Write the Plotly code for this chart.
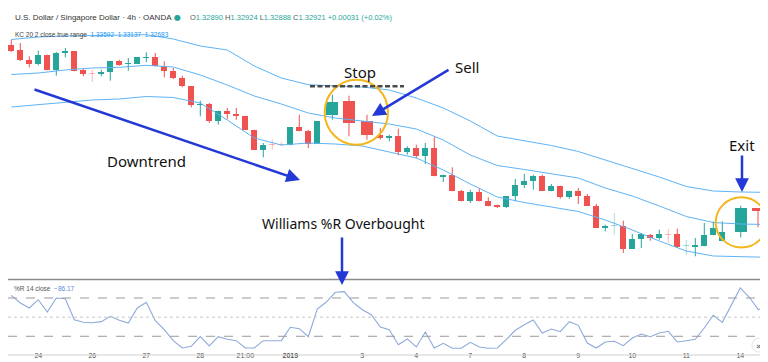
import plotly.graph_objects as go

W, H = 768, 362

# ---------------- data ----------------
bar_idx = list(range(0, 35)) + list(range(41, 80)) + [84, 85]
opens = [1.34927,1.34883,1.34783,1.34740,1.34833,1.34683,1.34850,1.34867,1.34677,1.34643,
         1.34640,1.34657,1.34767,1.34740,1.34740,1.34800,1.34807,1.34717,1.34667,1.34600,
         1.34517,1.34330,1.34340,1.34173,1.34267,1.34240,1.34217,1.34083,1.33883,1.33937,
         1.33937,1.33927,1.34107,1.34067,1.33940,
         1.34033,1.34000,1.34017,1.33857,1.33900,1.33823,1.33900,1.33617,1.33633,1.33467,
         1.33367,1.33457,1.33373,1.33323,1.33310,1.33417,1.33527,1.33573,1.33623,1.33473,
         1.33523,1.33407,1.33473,1.33423,1.33323,1.33100,1.33117,1.33123,1.32890,1.32990,
         1.33033,1.33000,1.33040,1.33040,1.32917,1.32917,1.32917,1.33027,1.32967,
         1.33117,1.33033]
highs = [1.34983,1.34950,1.34817,1.34873,1.34833,1.34860,1.34900,1.34867,1.34693,1.34683,
         1.34683,1.34767,1.34783,1.34800,1.34807,1.34857,1.34850,1.34767,1.34700,1.34623,
         1.34517,1.34373,1.34350,1.34273,1.34300,1.34300,1.34217,1.34083,1.33950,1.33983,
         1.33960,1.34107,1.34233,1.34083,1.34167,
         1.34100,1.34033,1.34093,1.33917,1.33933,1.33950,1.34010,1.33633,1.33707,1.33483,
         1.33483,1.33500,1.33407,1.33333,1.33417,1.33590,1.33640,1.33633,1.33633,1.33540,
         1.33523,1.33473,1.33500,1.33440,1.33340,1.33133,1.33250,1.33173,1.33040,1.33050,
         1.33040,1.33083,1.33093,1.33093,1.32983,1.33000,1.33150,1.33167,1.33167,
         1.33150,1.33080]
lows = [1.34860,1.34770,1.34707,1.34727,1.34677,1.34623,1.34807,1.34667,1.34617,1.34560,
        1.34617,1.34573,1.34723,1.34673,1.34740,1.34757,1.34717,1.34607,1.34590,1.34507,
        1.34307,1.34217,1.34150,1.34133,1.34190,1.34183,1.34083,1.33883,1.33807,1.33883,
        1.33920,1.33927,1.34067,1.33900,1.33940,
        1.33983,1.33967,1.33827,1.33833,1.33800,1.33740,1.33617,1.33560,1.33467,1.33367,
        1.33350,1.33367,1.33317,1.33300,1.33300,1.33367,1.33500,1.33483,1.33473,1.33467,
        1.33393,1.33393,1.33340,1.33323,1.33100,1.33067,1.33033,1.32850,1.32890,1.32900,
        1.32973,1.32983,1.32950,1.32900,1.32833,1.32817,1.32917,1.33027,1.32967,
        1.33113,1.32950]
closes = [1.34873,1.34780,1.34740,1.34833,1.34677,1.34850,1.34873,1.34667,1.34640,1.34637,
          1.34660,1.34767,1.34733,1.34750,1.34807,1.34807,1.34717,1.34667,1.34600,1.34517,
          1.34327,1.34337,1.34167,1.34267,1.34240,1.34217,1.34083,1.33883,1.33933,1.33930,
          1.33930,1.34107,1.34067,1.33940,1.34167,
          1.34000,1.34017,1.33857,1.33900,1.33817,1.33900,1.33617,1.33630,1.33467,1.33367,
          1.33457,1.33367,1.33317,1.33310,1.33417,1.33527,1.33573,1.33623,1.33473,1.33523,
          1.33407,1.33473,1.33423,1.33323,1.33100,1.33117,1.33127,1.32890,1.32990,1.33040,
          1.33000,1.33040,1.33030,1.32907,1.32923,1.32923,1.33027,1.33100,1.33060,
          1.33143,1.32950]
faded_bars = [9, 29, 30, 67, 73, 75]

# candles magnified inside the yellow circles
zoom_idx = [35.67, 37.52, 39.52, 81.05, 82.97]
zoom_open = [1.34233, 1.34367, 1.34167, 1.33060, 1.33300]
zoom_high = [1.34433, 1.34423, 1.34233, 1.33323, 1.33300]
zoom_low = [1.34183, 1.34017, 1.33983, 1.33007, 1.33107]
zoom_close = [1.34357, 1.34150, 1.34033, 1.33300, 1.33267]

# Keltner channel (KC 20 2)
band_idx = list(range(0, 85, 3)) + [85]
kc_upper = [1.34985,1.35010,1.35020,1.35025,1.35027,1.35033,1.34990,1.34920,1.34880,1.34720,
            1.34600,1.34533,1.34520,1.34510,1.34480,1.34400,1.34300,1.34170,1.34020,1.33975,
            1.33925,1.33865,1.33780,1.33700,1.33610,1.33515,1.33470,1.33460,1.33457,1.33455]
kc_middle = [1.34635,1.34650,1.34680,1.34700,1.34707,1.34727,1.34710,1.34630,1.34530,1.34420,
             1.34340,1.34250,1.34200,1.34170,1.34140,1.34090,1.33980,1.33830,1.33725,1.33685,
             1.33645,1.33600,1.33500,1.33420,1.33320,1.33215,1.33155,1.33140,1.33135,1.33133]
kc_lower = [1.34310,1.34335,1.34360,1.34380,1.34390,1.34415,1.34405,1.34350,1.34180,1.34000,
            1.33930,1.33950,1.33940,1.33920,1.33860,1.33800,1.33680,1.33540,1.33410,1.33355,
            1.33310,1.33265,1.33180,1.33080,1.32970,1.32870,1.32820,1.32810,1.32807,1.32807]

# Williams %R (14)
wr_idx = list(range(0, 86))
wr_values = [-15.8,-27.8,-35.7,-22.7,-41.9,-20.0,-21.1,-54.0,-58.1,-58.7,
             -57.1,-48.7,-54.9,-59.2,-35.7,-26.7,-55.6,-69.7,-86.9,-98.4,
             -95.7,-80.6,-95.2,-80.6,-84.7,-86.9,-98.4,-98.4,-86.9,-86.9,
             -86.9,-65.9,-68.1,-80.6,-37.2,-26.3,-11.1,-10.1,-27.4,-38.3,
             -46.2,-65.4,-69.7,-93.2,-84.2,-96.8,-73.3,-98.4,-91.0,-98.8,
             -98.8,-89.4,-96.8,-98.8,-98.4,-85.3,-70.6,-61.8,-54.5,-74.8,
             -68.6,-72.8,-57.1,-62.8,-90.5,-98.4,-88.9,-87.9,-94.7,-82.7,
             -76.4,-80.6,-74.8,-72.2,-88.9,-86.9,-84.7,-67.0,-47.1,-58.1,
             -31.4,-4.3,-18.9,-38.3,-32.1,-54.0]
wr_levels = [-20, -50, -80]

tick_pos = [3, 9, 15, 21, 26, 31, 39, 45, 51, 57, 63, 69, 75, 81]
tick_text = ["24", "26", "27", "28", "21:00", "<b>2019</b>", "3", "4", "7", "8", "9", "10", "11", "14"]

# ---------------- styling ----------------
RED, GREEN = "#ef5350", "#26a69a"
RED_L, GREEN_L = "rgba(239,83,80,0.40)", "rgba(38,166,154,0.40)"
BAND = "#5fb3f5"
ARROW = "#2338d4"
CIRCLE = "#f5b61c"


def px(x):
    return x / W


def py(y):
    return 1 - y / H


fig = go.Figure()


def add_candles(xs, o, h, l, c, width, faded=()):
    cols = []
    for k, x in enumerate(xs):
        up = c[k] >= o[k]
        light = x in faded
        cols.append((GREEN_L if light else GREEN) if up else (RED_L if light else RED))
    groups = {}
    for k, col in enumerate(cols):
        groups.setdefault(col, []).append(k)
    for col, ks in groups.items():
        wx, wy = [], []
        for k in ks:
            wx += [xs[k], xs[k], None]
            wy += [l[k], h[k], None]
        fig.add_trace(go.Scatter(x=wx, y=wy, mode="lines", line=dict(color=col, width=1),
                                 hoverinfo="skip", showlegend=False, yaxis="y"))
    base = [min(o[k], c[k]) for k in range(len(xs))]
    size = [max(abs(c[k] - o[k]), 0.0001) for k in range(len(xs))]
    fig.add_trace(go.Bar(x=xs, y=size, base=base, width=width, marker=dict(color=cols, line=dict(width=0)),
                         hoverinfo="skip", showlegend=False, yaxis="y"))


add_candles(bar_idx, opens, highs, lows, closes, 0.7, faded_bars)
add_candles(zoom_idx, zoom_open, zoom_high, zoom_low, zoom_close, 1.35)

for band in (kc_upper, kc_middle, kc_lower):
    fig.add_trace(go.Scatter(x=band_idx, y=band, mode="lines", line=dict(color=BAND, width=1),
                             hoverinfo="skip", showlegend=False, yaxis="y"))

fig.add_trace(go.Scatter(x=wr_idx, y=wr_values, mode="lines", line=dict(color="#8eaad9", width=1.1),
                         hoverinfo="skip", showlegend=False, yaxis="y2", cliponaxis=False))

x_lo = (0 - 3.3) / 9
x_hi = (764 - 3.3) / 9

shapes = []
for lv in wr_levels:
    shapes.append(dict(type="line", xref="paper", yref="y2", x0=0, x1=px(764), y0=lv, y1=lv,
                       line=dict(color="#9a9a9a" if lv != -50 else "#c8c8c8", width=1,
                                 dash="dash" if lv != -50 else "dot")))
# pane borders
shapes += [
    dict(type="line", xref="paper", yref="paper", x0=0, x1=1, y0=py(271.5), y1=py(271.5),
         line=dict(color="#8c8c8c", width=1.5)),
    dict(type="line", xref="paper", yref="paper", x0=0, x1=1, y0=py(347), y1=py(347),
         line=dict(color="#cfcfcf", width=1)),
    dict(type="line", xref="paper", yref="paper", x0=px(764), x1=px(764), y0=py(0), y1=py(347),
         line=dict(color="#b5b5b5", width=1)),
]
# annotations: circles and stop line
shapes += [
    dict(type="circle", xref="paper", yref="paper", x0=px(316.7), x1=px(380), y0=py(136.7), y1=py(71.7),
         line=dict(color=CIRCLE, width=2), layer="above"),
    dict(type="circle", xref="paper", yref="paper", x0=px(707.7), x1=px(759), y0=py(239.5), y1=py(189.3),
         line=dict(color=CIRCLE, width=2), layer="above"),
    dict(type="line", xref="paper", yref="paper", x0=px(302), x1=px(396), y0=py(78.3), y1=py(78.3),
         line=dict(color="#4a4a4a", width=2.5, dash="5px,2.5px")),
    dict(type="circle", xref="paper", yref="paper", x0=px(744), x1=px(758), y0=py(344), y1=py(330),
         line=dict(color="#e3e3e3", width=1), fillcolor="white"),
]

ann = []
TXT = dict(family="Noto Sans", size=15, color="#111111")
for text, x, y, size in [("Stop", 352, 64, 15), ("Sell", 459, 59, 15), ("Downtrend", 138, 153, 15),
                         ("Exit", 733.5, 136.5, 15), ("Williams %R Overbought", 335.5, 215, 14)]:
    ann.append(dict(text=text, x=px(x), y=py(y), xref="paper", yref="paper", showarrow=False,
                    xanchor="center", yanchor="middle", font=dict(TXT, size=size)))
for hx, hy, tx, ty in [(292, 172, 25, 81), (364, 108, 442, 61), (734, 184, 734, 146), (334, 277, 334, 228)]:
    ann.append(dict(text="", x=px(hx), y=py(hy), xref="paper", yref="paper", showarrow=True,
                    ax=tx - hx, ay=ty - hy, arrowhead=2, arrowsize=1.1, arrowwidth=2.5, arrowcolor=ARROW))

HDR = "Liberation Sans"
ann += [
    dict(text="U.S. Dollar / Singapore Dollar · 4h · OANDA", x=px(5), y=py(9.5), xref="paper", yref="paper",
         showarrow=False, xanchor="left", yanchor="middle", font=dict(family=HDR, size=8, color="#333333")),
    dict(text="●", x=px(169.5), y=py(9.5), xref="paper", yref="paper", showarrow=False, xanchor="center",
         yanchor="middle", font=dict(family="DejaVu Sans", size=8, color=GREEN)),
    dict(text=("O<span style='color:#26a69a'>1.32890</span> H<span style='color:#26a69a'>1.32924</span> "
               "L<span style='color:#26a69a'>1.32888</span> C<span style='color:#26a69a'>1.32921</span> "
               "<span style='color:#26a69a'>+0.00031 (+0.02%)</span>"),
         x=px(180), y=py(9.5), xref="paper", yref="paper", showarrow=False, xanchor="left", yanchor="middle",
         font=dict(family=HDR, size=7.5, color="#555555")),
    dict(text=("KC 20 2 close true range  <span style='color:#2196f3'>1.33592</span>  "
               "<span style='color:#2196f3'>1.33137</span>  <span style='color:#2196f3'>1.32683</span>"),
         x=px(5), y=py(27), xref="paper", yref="paper", showarrow=False, xanchor="left", yanchor="middle",
         font=dict(family=HDR, size=6.5, color="#444444")),
    dict(text="%R 14 close  <span style='color:#5b86d6'>−86.17</span>", x=px(4), y=py(280.5), xref="paper",
         yref="paper", showarrow=False, xanchor="left", yanchor="middle",
         font=dict(family=HDR, size=6.5, color="#555555")),
    dict(text="»", x=px(751), y=py(337.5), xref="paper", yref="paper", showarrow=False, xanchor="center",
         yanchor="middle", font=dict(family="DejaVu Sans", size=9, color="#444444")),
]

fig.update_layout(
    width=W, height=H, margin=dict(l=0, r=0, t=0, b=0),
    paper_bgcolor="white", plot_bgcolor="white",
    barmode="overlay", bargap=0, showlegend=False,
    xaxis=dict(domain=[0, px(764)], range=[x_lo, x_hi], anchor="y2", tickmode="array",
               tickvals=tick_pos, ticktext=tick_text, showgrid=False, zeroline=False, showline=False,
               ticks="", tickfont=dict(family=HDR, size=7, color="#555555")),
    yaxis=dict(domain=[py(271), 1], range=[1.3259, 1.3530], showgrid=False, zeroline=False,
               showticklabels=False, showline=False),
    yaxis2=dict(domain=[py(342), py(272)], range=[-101.5, 8.2], showgrid=False, zeroline=False,
                showticklabels=False, showline=False),
    shapes=shapes, annotations=ann,
)

fig.write_html("out.html")
